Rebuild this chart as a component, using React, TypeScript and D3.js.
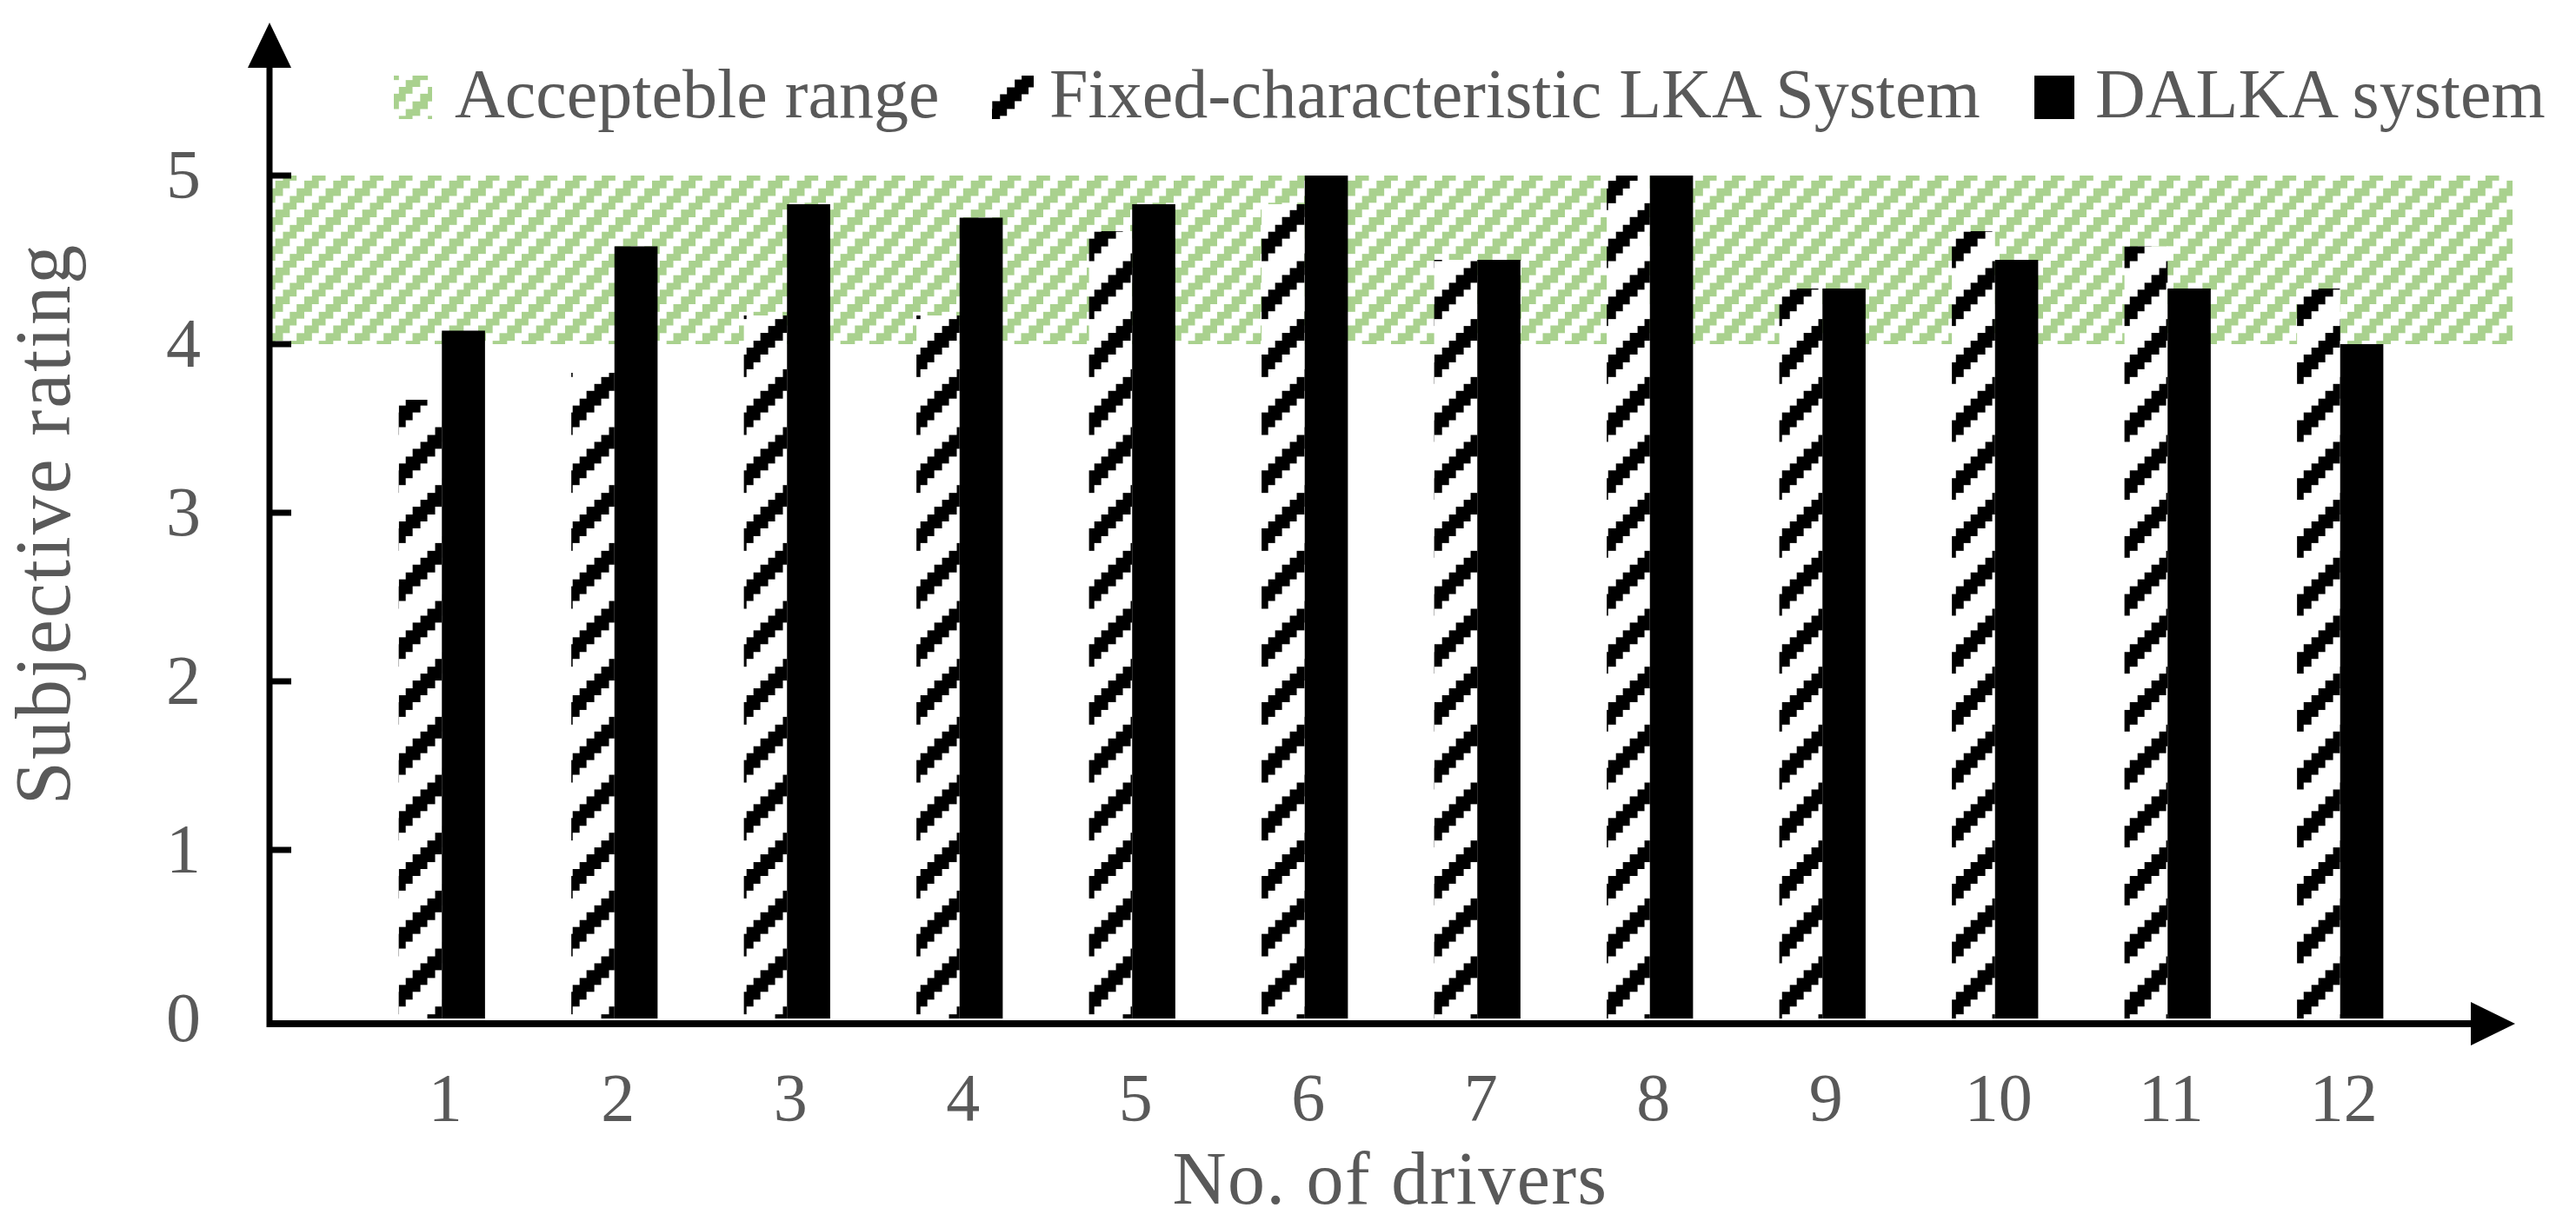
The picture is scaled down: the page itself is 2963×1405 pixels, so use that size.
import * as React from 'react';
import * as d3 from 'd3';

// values
const drivers = ['1', '2', '3', '4', '5', '6', '7', '8', '9', '10', '11', '12'];
const fixedLka = [3.67, 3.83, 4.17, 4.17, 4.67, 4.83, 4.5, 5.0, 4.33, 4.67, 4.58, 4.33];
const dalka = [4.08, 4.58, 4.83, 4.75, 4.83, 5.0, 4.5, 5.0, 4.33, 4.5, 4.33, 4.0];
const yTicks = [0, 1, 2, 3, 4, 5];
const acceptRange = [4, 5];
const legendLabels = ['Accepteble range', 'Fixed-characteristic LKA System', 'DALKA system'];

const W = 2963;
const H = 1405;
const TEXT = '#595959';
const GREEN = '#a9d18e';
const FONT = '"Liberation Serif", "Times New Roman", serif';
const CELL = 25 / 3;

const App = () => {
    const x = d3.scaleBand<string>()
        .domain(drivers)
        .range([409, 2791]);

    const y = d3.scaleLinear()
        .domain([0, 5])
        .range([1172, 202]);

    const barW = x.bandwidth() * 0.25;
    const cx = (d: string) => (x(d) as number) + x.bandwidth() / 2;

    const axisX = 310;
    const axisY = 1178;

    // pixel-stepped diagonal hatch cells
    const greenCells: Array<[number, number]> = [];
    for (let r = 0; r < 4; r++) {
        for (let j = 0; j < 2; j++) {
            greenCells.push([((3 - r + j) % 4), r]);
        }
    }
    const blackCells: Array<[number, number]> = [];
    for (let r = 0; r < 8; r++) {
        for (let j = 0; j < 3; j++) {
            blackCells.push([((7 - r + j) % 8), r]);
        }
    }

    const legendItems = [
        {label: legendLabels[0], fill: 'url(#greenHatch)', sx: 453, sw: 44, tx: 523},
        {label: legendLabels[1], fill: 'url(#blackHatch)', sx: 1141, sw: 48, tx: 1207},
        {label: legendLabels[2], fill: '#000', sx: 2340, sw: 46, tx: 2410},
    ];

    return (
        <svg width={W} height={H} viewBox={`0 0 ${W} ${H}`}
             style={{position: 'absolute', left: 0, top: 0, background: '#fff'}}>
            <defs>
                <pattern id="greenHatch" patternUnits="userSpaceOnUse" width={CELL * 4} height={CELL * 4}>
                    <rect width={CELL * 4} height={CELL * 4} fill="#fff"/>
                    {greenCells.map(([c, r], i) =>
                        <rect key={i} x={c * CELL} y={r * CELL} width={CELL} height={CELL} fill={GREEN}
                              shapeRendering="crispEdges"/>)}
                </pattern>
                <pattern id="blackHatch" patternUnits="userSpaceOnUse" width={CELL * 8} height={CELL * 8}>
                    <rect width={CELL * 8} height={CELL * 8} fill="#fff"/>
                    {blackCells.map(([c, r], i) =>
                        <rect key={i} x={c * CELL} y={r * CELL} width={CELL} height={CELL} fill="#000"
                              shapeRendering="crispEdges"/>)}
                </pattern>
            </defs>

            {/* acceptable range band */}
            <rect x={axisX + 3} y={y(acceptRange[1])} width={2890 - axisX - 3}
                  height={y(acceptRange[0]) - y(acceptRange[1])} fill="url(#greenHatch)"/>

            {/* bars */}
            {drivers.map((d, i) => (
                <g key={d}>
                    <rect x={cx(d) - barW} y={y(fixedLka[i])} width={barW}
                          height={y(0) - y(fixedLka[i])} fill="url(#blackHatch)"/>
                    <rect x={cx(d)} y={y(dalka[i])} width={barW}
                          height={y(0) - y(dalka[i])} fill="#000"/>
                </g>
            ))}

            {/* y axis */}
            <line x1={axisX} x2={axisX} y1={axisY + 4} y2={77} stroke="#000" strokeWidth={7}/>
            <path d={`M${axisX},26 L${axisX - 25},78 L${axisX + 25},78 Z`} fill="#000"/>
            {yTicks.filter(t => t > 0).map(t => (
                <line key={t} x1={axisX} x2={axisX + 25} y1={y(t)} y2={y(t)} stroke="#000" strokeWidth={7}/>
            ))}
            {yTicks.map(t => (
                <text key={t} x={211} y={y(t)} dy="0.33em" textAnchor="middle"
                      fontFamily={FONT} fontSize={80} fill={TEXT}>{t}</text>
            ))}

            {/* x axis */}
            <line x1={axisX - 3} x2={2843} y1={axisY} y2={axisY} stroke="#000" strokeWidth={8}/>
            <path d={`M2893,${axisY} L2842,${axisY - 25} L2842,${axisY + 25} Z`} fill="#000"/>
            {drivers.map(d => (
                <text key={d} x={cx(d) + 4} y={1289} textAnchor="middle"
                      fontFamily={FONT} fontSize={78} fill={TEXT}>{d}</text>
            ))}

            {/* axis titles */}
            <text x={1599} y={1385} textAnchor="middle" fontFamily={FONT} fontSize={86}
                  letterSpacing={1.5} fill={TEXT}>
                No. of drivers
            </text>
            <text transform="translate(80,603) rotate(-90)" textAnchor="middle"
                  fontFamily={FONT} fontSize={90} letterSpacing={2} fill={TEXT}>
                Subjective rating
            </text>

            {/* legend */}
            {legendItems.map(item => (
                <g key={item.label}>
                    <rect x={item.sx} y={87} width={item.sw} height={50} fill={item.fill}/>
                    <text x={item.tx} y={135} fontFamily={FONT} fontSize={80} fill={TEXT}>{item.label}</text>
                </g>
            ))}
        </svg>
    );
};

export default App;
